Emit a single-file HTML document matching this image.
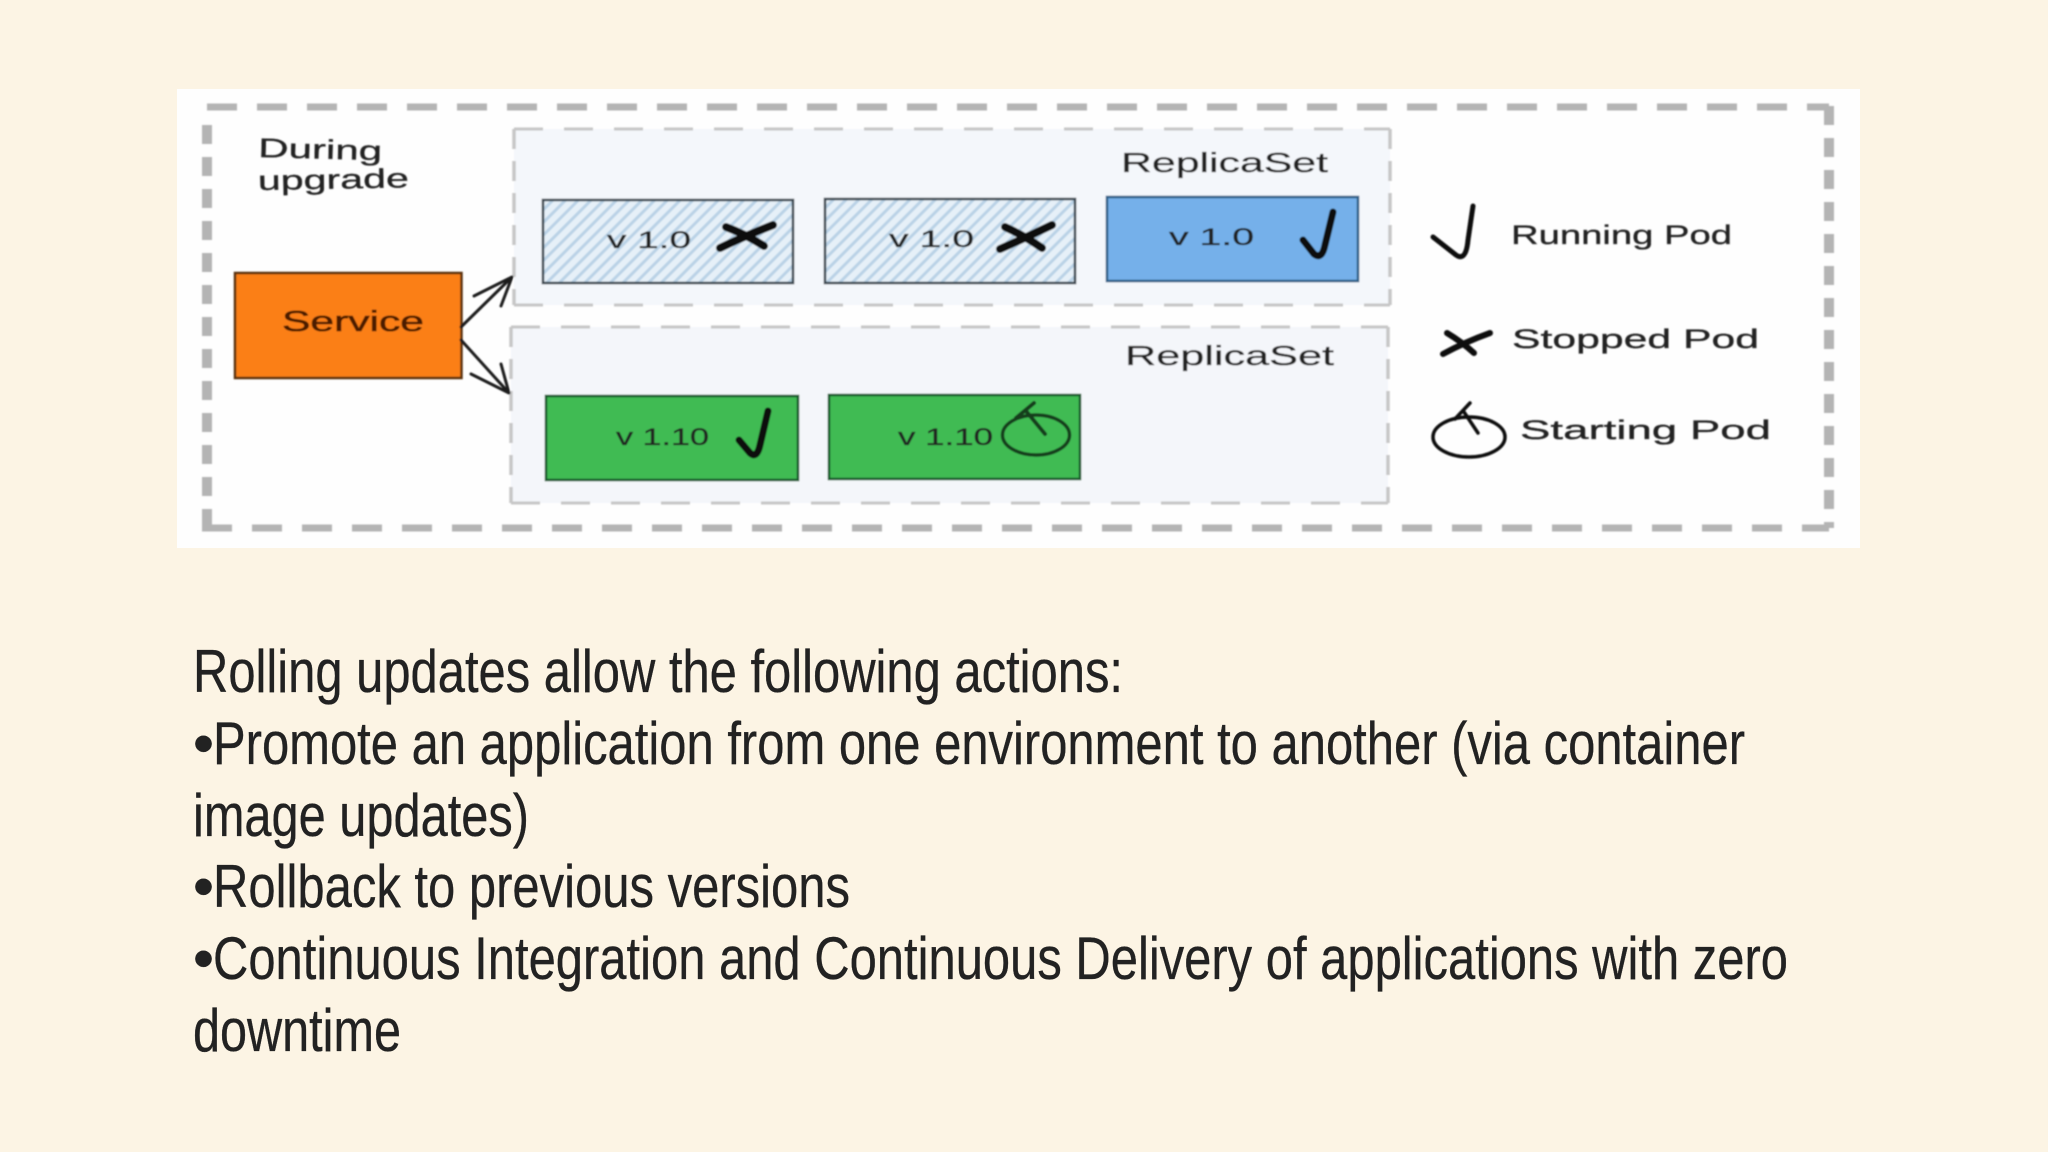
<!DOCTYPE html>
<html><head><meta charset="utf-8"><style>
html,body{margin:0;padding:0;width:2048px;height:1152px;overflow:hidden;background:#fcf4e4}
svg{display:block;position:absolute;left:0;top:0}
.h{font-family:"Liberation Sans",sans-serif;fill:#222;stroke:#222;stroke-width:.3px}
.t{font-family:"Liberation Sans",sans-serif;font-size:60px;fill:#222;stroke:#222;stroke-width:.3px}
</style></head><body>
<svg width="2048" height="1152" viewBox="0 0 2048 1152" xmlns="http://www.w3.org/2000/svg">
<defs>
<pattern id="hatch" width="9" height="9" patternUnits="userSpaceOnUse" patternTransform="rotate(45)">
<rect width="9" height="9" fill="#e6f0f8"/><rect x="0" width="3" height="9" fill="#b9d2e6"/>
</pattern>
<filter id="b" x="-2%" y="-2%" width="104%" height="104%"><feGaussianBlur stdDeviation="0.7"/></filter>
</defs>
<rect width="2048" height="1152" fill="#fcf4e4"/>
<rect x="177" y="89" width="1683" height="459" fill="#fefefe"/>
<g filter="url(#b)">
<!-- outer dashed -->
<g stroke="#b4b4b4" fill="none">
<line x1="207" y1="107" x2="1829" y2="107" stroke-width="7" stroke-dasharray="30 20"/>
<line x1="202" y1="528" x2="1829" y2="528" stroke-width="7" stroke-dasharray="30 20"/>
<line x1="207" y1="125" x2="207" y2="528" stroke-width="10" stroke-dasharray="19 13"/>
<line x1="1829" y1="106" x2="1829" y2="528" stroke-width="10" stroke-dasharray="19 13"/>
</g>
<!-- replica sets -->
<rect x="514" y="129" width="876" height="176" fill="#f4f7fb"/>
<rect x="511" y="327" width="877" height="176" fill="#f4f6fa"/>
<g stroke="#c6c6c6" fill="none" stroke-width="3">
<line x1="514" y1="129" x2="1390" y2="129" stroke-dasharray="29 21"/>
<line x1="514" y1="305" x2="1390" y2="305" stroke-dasharray="29 21"/>
<line x1="514" y1="129" x2="514" y2="305" stroke-dasharray="20 12" stroke-width="3.500"/>
<line x1="1390" y1="129" x2="1390" y2="305" stroke-dasharray="20 12" stroke-width="3.500"/>
<line x1="511" y1="327" x2="1388" y2="327" stroke-dasharray="29 21"/>
<line x1="511" y1="503" x2="1388" y2="503" stroke-dasharray="29 21"/>
<line x1="511" y1="327" x2="511" y2="503" stroke-dasharray="20 12" stroke-width="3.500"/>
<line x1="1388" y1="327" x2="1388" y2="503" stroke-dasharray="20 12" stroke-width="3.500"/>
</g>
<!-- service -->
<rect x="235" y="273" width="226.500" height="105" fill="#fb7f14" stroke="#5a3010" stroke-width="2.500"/>
<!-- pods -->
<rect x="543" y="200" width="250" height="83" fill="url(#hatch)" stroke="#3a4650" stroke-width="2.500"/>
<rect x="825" y="199" width="250" height="84" fill="url(#hatch)" stroke="#3a4650" stroke-width="2.500"/>
<rect x="1107" y="197" width="251" height="84" fill="#74b0ea" stroke="#2f5f86" stroke-width="2.500"/>
<rect x="546" y="396" width="252" height="84" fill="#3fbb53" stroke="#14592a" stroke-width="2.500"/>
<rect x="829" y="395" width="251" height="84" fill="#3fbb53" stroke="#14592a" stroke-width="2.500"/>
<!-- arrows -->
<g stroke="#1a1a1a" stroke-width="3" fill="none" stroke-linecap="round" stroke-linejoin="round">
<path d="M461 327L512 277M474 296L512 277L501 306"/>
<path d="M461 340L509 393M471 374L509 393L501 364"/>
</g>
<!-- marks -->
<g stroke="#111" fill="none" stroke-linecap="round" stroke-linejoin="round">
<path d="M720 248Q745 236 773 225M726 227Q745 234 764 246" stroke-width="8"/>
<path d="M1000 249Q1025 238 1052 225M1005 227Q1025 236 1042 248" stroke-width="8"/>
<path d="M1303 240L1314 254Q1322 260 1325 245L1333 212" stroke-width="7"/>
<path d="M739 440L750 453Q757 459 760 445L768 411" stroke-width="7"/>
<ellipse cx="1036" cy="435" rx="33.500" ry="20" stroke="#143c1c" stroke-width="3.500"/>
<path d="M1045 434L1026 411M1034 403L1016 418" stroke="#143c1c" stroke-width="4"/>
<path d="M1433 237L1456 255Q1466 262 1468 240L1473 206" stroke-width="5"/>
<path d="M1443 354Q1465 342 1490 333M1447 333Q1462 342 1474 353" stroke-width="6"/>
<ellipse cx="1469" cy="437" rx="36" ry="20" stroke-width="3.500"/>
<path d="M1478 433L1464 412M1470 403L1455 419" stroke-width="3.500"/>
</g>
<!-- handwritten labels -->
<g>
<text x="258" y="157" font-size="27" textLength="124" lengthAdjust="spacingAndGlyphs" class="h" transform="rotate(1.500 258 157)">During</text>
<text x="258" y="190" font-size="27" textLength="151" lengthAdjust="spacingAndGlyphs" class="h" transform="rotate(-1 258 190)">upgrade</text>
<text x="282" y="331" font-size="29" textLength="142" lengthAdjust="spacingAndGlyphs" class="h" style="fill:#4c1a02;stroke:#4c1a02;stroke-width:.6px">Service</text>
<text x="607" y="248" font-size="24" textLength="84" lengthAdjust="spacingAndGlyphs" class="h">v 1.0</text>
<text x="889" y="247" font-size="24" textLength="85" lengthAdjust="spacingAndGlyphs" class="h">v 1.0</text>
<text x="1169" y="245" font-size="24" textLength="85" lengthAdjust="spacingAndGlyphs" class="h">v 1.0</text>
<text x="616" y="445" font-size="24" textLength="93" lengthAdjust="spacingAndGlyphs" class="h">v 1.10</text>
<text x="898" y="445" font-size="24" textLength="95" lengthAdjust="spacingAndGlyphs" class="h">v 1.10</text>
<text x="1121" y="172" font-size="28" textLength="207" lengthAdjust="spacingAndGlyphs" class="h">ReplicaSet</text>
<text x="1125" y="365" font-size="28" textLength="209" lengthAdjust="spacingAndGlyphs" class="h">ReplicaSet</text>
<text x="1511" y="244" font-size="27" textLength="221" lengthAdjust="spacingAndGlyphs" class="h">Running Pod</text>
<text x="1512" y="348" font-size="27" textLength="247" lengthAdjust="spacingAndGlyphs" class="h">Stopped Pod</text>
<text x="1520" y="439" font-size="27" textLength="251" lengthAdjust="spacingAndGlyphs" class="h">Starting Pod</text>
</g>
</g>
<!-- body text -->
<text class="t" x="193" y="692" textLength="930" lengthAdjust="spacingAndGlyphs">Rolling updates allow the following actions:</text>
<text class="t" x="193" y="764">•</text>
<text class="t" x="213" y="764" textLength="1532" lengthAdjust="spacingAndGlyphs">Promote an application from one environment to another (via container</text>
<text class="t" x="193" y="836" textLength="336" lengthAdjust="spacingAndGlyphs">image updates)</text>
<text class="t" x="193" y="907">•</text>
<text class="t" x="213" y="907" textLength="637" lengthAdjust="spacingAndGlyphs">Rollback to previous versions</text>
<text class="t" x="193" y="979">•</text>
<text class="t" x="213" y="979" textLength="1575" lengthAdjust="spacingAndGlyphs">Continuous Integration and Continuous Delivery of applications with zero</text>
<text class="t" x="193" y="1051" textLength="208" lengthAdjust="spacingAndGlyphs">downtime</text>
</svg>
</body></html>
